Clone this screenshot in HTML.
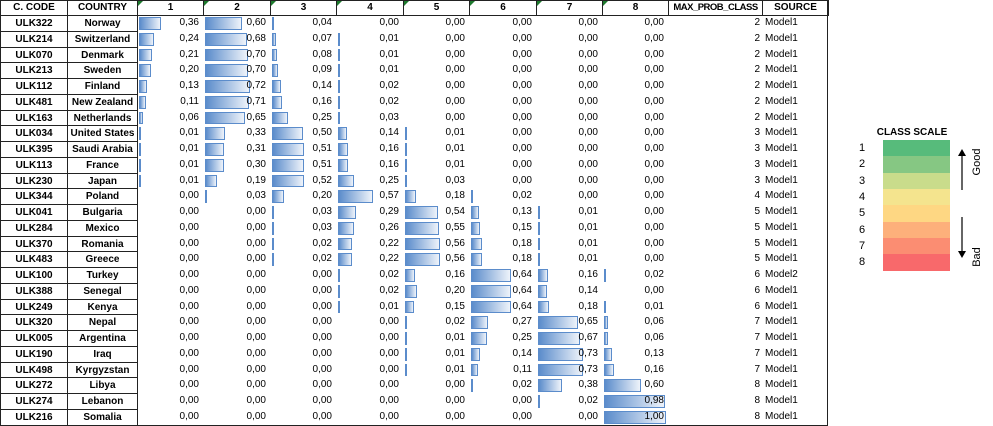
<!DOCTYPE html>
<html><head><meta charset="utf-8">
<style>
body{margin:0;width:993px;height:425px;background:#fff;position:relative;overflow:hidden;font-family:"Liberation Sans",sans-serif;font-size:10px;color:#000}
.a{position:absolute;box-sizing:border-box}
.c{white-space:nowrap;line-height:15px}
</style></head><body>
<div id="root"></div>
<script>
const codes=["ULK322","ULK214","ULK070","ULK213","ULK112","ULK481","ULK163","ULK034","ULK395","ULK113","ULK230","ULK344","ULK041","ULK284","ULK370","ULK483","ULK100","ULK388","ULK249","ULK320","ULK005","ULK190","ULK498","ULK272","ULK274","ULK216"];
const countries=["Norway","Switzerland","Denmark","Sweden","Finland","New Zealand","Netherlands","United States","Saudi Arabia","France","Japan","Poland","Bulgaria","Mexico","Romania","Greece","Turkey","Senegal","Kenya","Nepal","Argentina","Iraq","Kyrgyzstan","Libya","Lebanon","Somalia"];
const p1=[.36,.24,.21,.20,.13,.11,.06,.01,.01,.01,.01,0,0,0,0,0,0,0,0,0,0,0,0,0,0,0];
const p2=[.60,.68,.70,.70,.72,.71,.65,.33,.31,.30,.19,.03,0,0,0,0,0,0,0,0,0,0,0,0,0,0];
const p3=[.04,.07,.08,.09,.14,.16,.25,.50,.51,.51,.52,.20,.03,.03,.02,.02,0,0,0,0,0,0,0,0,0,0];
const p4=[0,.01,.01,.01,.02,.02,.03,.14,.16,.16,.25,.57,.29,.26,.22,.22,.02,.02,.01,0,0,0,0,0,0,0];
const p5=[0,0,0,0,0,0,0,.01,.01,.01,.03,.18,.54,.55,.56,.56,.16,.20,.15,.02,.01,.01,.01,0,0,0];
const p6=[0,0,0,0,0,0,0,0,0,0,0,.02,.13,.15,.18,.18,.64,.64,.64,.27,.25,.14,.11,.02,0,0];
const p7=[0,0,0,0,0,0,0,0,0,0,0,0,.01,.01,.01,.01,.16,.14,.18,.65,.67,.73,.73,.38,.02,0];
const p8=[0,0,0,0,0,0,0,0,0,0,0,0,0,0,0,0,.02,0,.01,.06,.06,.13,.16,.60,.98,1.00];
const maxClass=[2,2,2,2,2,2,2,3,3,3,3,4,5,5,5,5,6,6,6,7,7,7,7,8,8,8];
const sources=["Model1","Model1","Model1","Model1","Model1","Model1","Model1","Model1","Model1","Model1","Model1","Model1","Model1","Model1","Model1","Model1","Model2","Model1","Model1","Model1","Model1","Model1","Model1","Model1","Model1","Model1"];
const scaleLabels=["1","2","3","4","5","6","7","8"];
const scaleColors=["#57bb7b","#86c783","#c9dc8b","#f4e48e","#fed783","#fdb07b","#fb8d72","#f8696b"];

const probs=[p1,p2,p3,p4,p5,p6,p7,p8];
const colX=[0,67,137,203,270,336,403,469,536,602,668,762,828];
const H0=15,RH=15.75,BARW=62;
const root=document.getElementById('root');
function mk(x,y,w,h,css,txt){const d=document.createElement('div');d.className='a';d.style.cssText=`left:${x}px;top:${y}px;width:${w}px;height:${h}px;`+(css||'');if(txt!==undefined)d.textContent=txt;root.appendChild(d);return d;}
const tl=mk(0,0,828,1,'background:#bbb');


const heads=["C. CODE","COUNTRY","1","2","3","4","5","6","7","8","MAX_PROB_CLASS","SOURCE"];
heads.forEach((h,i)=>{
  const d=mk(colX[i],0,colX[i+1]-colX[i]+1,H0+1,'border:1px solid #222;font-weight:bold;text-align:center;line-height:14px;'+(i===10?'letter-spacing:-0.5px;font-size:9.5px;':''),'');
  d.classList.add('c');d.textContent=h;
  
  
  if(i>=2&&i<=9){const t=mk(colX[i]+1,1,0,0,'border-top:5px solid #1e7a2e;border-right:5px solid transparent;');
    
    }
});
codes.forEach((code,r)=>{
  const y=H0+r*RH;
  const c1=mk(0,y,68,RH+1,'border:1px solid #222;font-weight:bold;text-align:center;','');c1.classList.add('c');c1.textContent=code;
  
  
  const c2=mk(67,y,71,RH+1,'border:1px solid #222;font-weight:bold;text-align:center;','');c2.classList.add('c');c2.textContent=countries[r];
  
  
  probs.forEach((arr,k)=>{
    const v=arr[r],x=colX[k+2];
    if(v>0){const w=Math.max(1.5,v*BARW);
      const b=mk(x+2,y+2,w,RH-3,'border:1px solid #5b8ccb;background:linear-gradient(to right,#5b8ccb,#eef3fa);');
      
      }
    const t=mk(x,y,colX[k+3]-x-4,RH,'text-align:right;','');t.classList.add('c');t.textContent=v.toFixed(2).replace('.',',');
    
    
  });
  const m=mk(668,y,92,RH,'text-align:right;','');m.classList.add('c');m.textContent=maxClass[r];
  
  
  const s=mk(765,y,60,RH,'','');s.classList.add('c');s.textContent=sources[r];
  
  
});
const bottom=H0+codes.length*RH;
const vr=mk(827,0,1,bottom,'background:#222');


const bl=mk(0,bottom,828,1,'background:#222');


const st=mk(872,127,80,12,'font-weight:bold;text-align:center;line-height:12px;','CLASS SCALE');


scaleColors.forEach((col,i)=>{
  const y=140+i*16.3;
  const b=mk(883,y,67,16.5,'background:'+col);
  
  
  const l=mk(855,y,14,16.3,'font-size:11px;text-align:center;line-height:16px;',scaleLabels[i]);
  
  
});
</script>
<svg class="a" style="left:950px;top:140px;position:absolute" width="43" height="135">
<line x1="12" y1="50" x2="12" y2="14" stroke="#000" stroke-width="1.2"/><polygon points="8,16 16,16 12,9" fill="#000"/>
<line x1="12" y1="77" x2="12" y2="113" stroke="#000" stroke-width="1.2"/><polygon points="8,111 16,111 12,118" fill="#000"/>
<text transform="translate(30,22) rotate(-90)" font-family="Liberation Sans" font-size="11" text-anchor="middle">Good</text>
<text transform="translate(30,117) rotate(-90)" font-family="Liberation Sans" font-size="11" text-anchor="middle">Bad</text>
</svg>
</body></html>
